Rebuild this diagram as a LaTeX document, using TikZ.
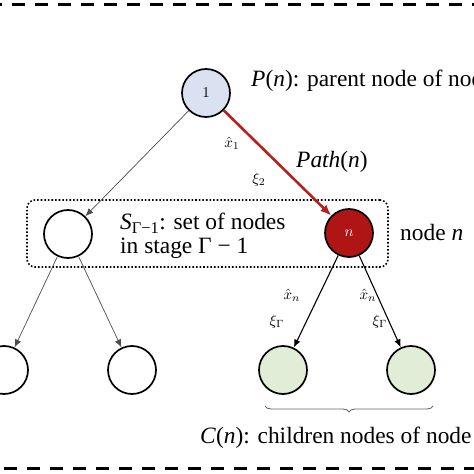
\documentclass[tikz,border=0pt]{standalone}
\usepackage{graphicx}
\usepackage{fontspec}
\setmainfont{Liberation Serif}
\usetikzlibrary{arrows.meta,decorations.pathreplacing}
\definecolor{rootblue}{HTML}{DAE1F1}
\definecolor{nred}{HTML}{B01515}
\definecolor{lred}{HTML}{B52020}
\definecolor{kidgreen}{HTML}{E1EDD7}
\newcommand{\lblmath}[1]{\scalebox{1.5}{$#1$}}
\tikzset{
  tnode/.style={circle,draw=black,line width=1.7bp,minimum size=48bp,inner sep=0pt},
  thinedge/.style={draw=black!70,line width=0.7bp,-{Latex[length=8bp,width=6.5bp]}},
  redge/.style={draw=lred,line width=2.6bp,-{Latex[length=11bp,width=9bp]}},
  kedge/.style={draw=black,line width=1.1bp,-{Latex[length=8bp,width=6.5bp]}},
  bigtext/.style={inner sep=0pt,font=\fontsize{23.5}{26}\selectfont},
  smalllab/.style={inner sep=0pt},
  sepline/.style={line width=3bp,black}
}
\begin{document}
\begin{tikzpicture}[x=1bp,y=-1bp]
\useasboundingbox (0,0) rectangle (474,474);
% separators
\draw[sepline,dash pattern=on 13bp off 10bp,dash phase=11bp] (0,5) -- (474,5);
\draw[sepline,dash pattern=on 13bp off 10bp,dash phase=19bp] (0,468) -- (474,468);
% dotted set box
\node[draw=black,dotted,line width=1.6bp,rounded corners=8bp,minimum width=361bp,minimum height=67bp,inner sep=0pt] (set) at (207.5,233.5) {};
% nodes
\node[tnode,fill=rootblue] (root) at (206,93) {\lblmath{1}};
\node[tnode,fill=white] (L) at (68,234) {};
\node[tnode,fill=nred,text=white] (N) at (349,233) {\lblmath{n}};
\node[tnode,fill=white] (LL) at (4,370) {};
\node[tnode,fill=white] (LR) at (132,370) {};
\node[tnode,fill=kidgreen] (C1) at (283,370) {};
\node[tnode,fill=kidgreen] (C2) at (411,370) {};
% edges
\draw[thinedge] (root) -- (L);
\draw[redge] (root) -- (N);
\draw[thinedge] (L) -- (LL);
\draw[thinedge] (L) -- (LR);
\draw[kedge] (N) -- (C1);
\draw[kedge] (N) -- (C2);
% edge labels
\node[smalllab] (lx1) at (232,143) {\lblmath{\hat{x}_1}};
\node[smalllab] (lxi2) at (259,180) {\lblmath{\xi_2}};
\node[smalllab] (lxn1) at (292,295) {\lblmath{\hat{x}_n}};
\node[smalllab] (lxg1) at (277,322) {\lblmath{\xi_\Gamma}};
\node[smalllab] (lxn2) at (368,295) {\lblmath{\hat{x}_n}};
\node[smalllab] (lxg2) at (380,322) {\lblmath{\xi_\Gamma}};
% texts
\node[bigtext,anchor=base west] (tP) at (251,87) {\textit{P}(\textit{n}): parent node of node \textit{n}};
\node[bigtext,anchor=base west] (tPath) at (296,168) {\textit{Path}(\textit{n})};
\node[bigtext,anchor=base west] (tS1) at (120,230) {\textit{S}\textsubscript{Γ−1}: set of nodes};
\node[bigtext,anchor=base west] (tS2) at (120,253) {in stage Γ − 1};
\node[bigtext,anchor=base west] (tn) at (400,240) {node \textit{n}};
\node[bigtext,anchor=base west] (tC) at (200,443) {\textit{C}(\textit{n}): children nodes of node \textit{n}};
% brace
\coordinate (b1) at (265,406);
\coordinate (b2) at (433,406);
\draw[black!60,line width=0.9bp,decorate,decoration={brace,mirror,amplitude=6bp}] (b1) -- (b2);
\end{tikzpicture}
\end{document}
